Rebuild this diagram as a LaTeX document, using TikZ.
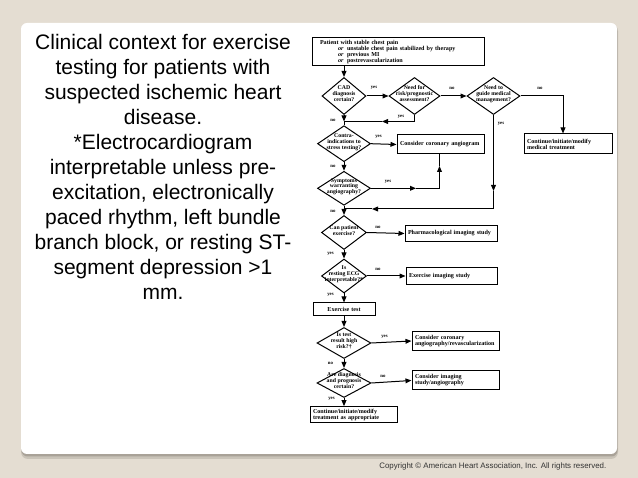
\documentclass[tikz,border=0pt]{standalone}
\usepackage{fontspec}
\setmainfont{Liberation Sans}
\newfontfamily\flowfont{Liberation Serif}
\usetikzlibrary{shapes.geometric,arrows.meta}
\definecolor{bgc}{HTML}{E4DDD2}
\definecolor{shad}{HTML}{A9A298}
\definecolor{copyc}{HTML}{333333}
\newcommand\dtext[1]{\smash{\makebox[0pt]{\begin{tabular}{@{}c@{}}#1\end{tabular}}}}
\begin{document}
\begin{tikzpicture}[x=1pt,y=-1pt,
  every node/.style={font=\flowfont\bfseries\fontsize{6.1}{6}\selectfont},
  dia/.style={draw, diamond, inner sep=0pt, line width=1pt},
  dtxt/.style={font=\flowfont\bfseries\fontsize{5.8}{5.8}\selectfont},
  boxnode/.style={draw, rectangle, line width=1pt, inner xsep=3pt, inner ysep=0pt, align=left},
  lbl/.style={font=\flowfont\bfseries\fontsize{4.8}{5}\selectfont, inner sep=0pt},
  conn/.style={line width=1pt},
  arr/.style={conn, -{Triangle[length=6pt,width=4.8pt]}},
]
\useasboundingbox (0,0) rectangle (638,478);
\fill[bgc] (0,0) rectangle (638,478);
% panel with shadow
\fill[shad!45!bgc, rounded corners=7pt] (21,24) rectangle (618,459);
\fill[shad, rounded corners=6pt] (21.5,25) rectangle (617.5,456.5);
\fill[white, rounded corners=6pt] (21,23) rectangle (617,454);

% left text
\node[font={\rmfamily\mdseries\fontsize{21}{25}\selectfont}, align=center, anchor=north, inner sep=0pt] (ctx) at (163,34)
{Clinical context for exercise\\testing for patients with\\suspected ischemic heart\\disease.\\*Electrocardiogram\\interpretable unless pre-\\excitation, electronically\\paced rhythm, left bundle\\branch block, or resting ST-\\segment depression >1\\mm.};

% copyright
\node[font={\rmfamily\mdseries\fontsize{7.9}{8}\selectfont}, text=copyc, anchor=east, inner sep=0pt] (copy) at (606.5,466)
{Copyright © American Heart Association, Inc. All rights reserved.};

% flowchart nodes
\node[boxnode, minimum width=172pt, minimum height=28pt, text width=156pt, inner xsep=8pt] (start) at (398,52)
{Patient with stable chest pain\\
\hspace*{18pt}\makebox[9pt][l]{\textit{or}}unstable chest pain stabilized by therapy\\
\hspace*{18pt}\makebox[9pt][l]{\textit{or}}previous MI\\
\hspace*{18pt}\makebox[9pt][l]{\textit{or}}postrevascularization};

\node[dia, dtxt, minimum width=44pt, minimum height=37pt] (cad) at (344,96) {\dtext{CAD\\diagnosis\\certain?}};
\node[dia, dtxt, minimum width=51pt, minimum height=37pt] (needfor) at (414.5,96) {\dtext{Need for\\risk/prognostic\\assessment?}};
\node[dia, dtxt, minimum width=53pt, minimum height=37pt] (needto) at (493.5,96) {\dtext{Need to\\guide medical\\management?}};
\node[boxnode, minimum width=88pt, minimum height=20pt, text width=82pt] (medtx) at (568,144) {Continue/initiate/modify\\medical treatment};
\node[dia, dtxt, minimum width=53pt, minimum height=36pt] (contra) at (344,143.7) {\dtext{Contra-\\indications to\\stress testing?}};
\node[boxnode, minimum width=87pt, minimum height=19pt, text width=81pt] (angio) at (440.5,144.5) {Consider coronary angiogram};
\node[dia, dtxt, minimum width=53pt, minimum height=34pt] (symp) at (344,188.3) {\dtext{Symptoms\\warranting\\angiography?}};
\node[dia, dtxt, minimum width=45pt, minimum height=34pt] (canex) at (344,232.5) {\dtext{Can patient\\exercise?}};
\node[boxnode, minimum width=92pt, minimum height=16.5pt, text width=86pt] (pharm) at (451,233.5) {Pharmacological imaging study};
\node[dia, dtxt, minimum width=45pt, minimum height=34pt] (ecg) at (344,276) {\dtext{Is\\resting ECG\\interpretable?*}};
\node[boxnode, minimum width=91pt, minimum height=16.5pt, text width=85pt] (eximg) at (451.5,276) {Exercise imaging study};
\node[boxnode, minimum width=62pt, minimum height=13pt, text width=56pt, align=center] (extest) at (344,309.5) {Exercise test};
\node[dia, dtxt, minimum width=54pt, minimum height=31pt] (risk) at (344,343) {\dtext{Is test\\result high\\risk?†}};
\node[boxnode, minimum width=87pt, minimum height=19pt, text width=81pt] (cardrev) at (455.5,341) {Consider coronary\\angiography/revascularization};
\node[dia, dtxt, minimum width=54pt, minimum height=29pt] (certain) at (344,383) {\dtext{Are diagnosis\\and prognosis\\certain?}};
\node[boxnode, minimum width=87pt, minimum height=19pt, text width=81pt] (imgst) at (455.5,380.5) {Consider imaging\\study/angiography};
\node[boxnode, minimum width=87pt, minimum height=16pt, text width=81pt] (final) at (353.5,414.7) {Continue/initiate/modify\\treatment as appropriate};

% helper coordinates
\coordinate (j1) at (344,121.5);
\coordinate (j2) at (344,209);
\coordinate (c4) at (563,96);
\coordinate (m5) at (382,121.5);
\coordinate (m9a) at (416,188.3);
\coordinate (c9) at (439.5,188.3);
\coordinate (m9b) at (439.5,166);
\coordinate (m10a) at (493.5,191);
\coordinate (c10) at (493.5,209);
\coordinate (m10b) at (372,209);

% connectors
\draw[arr] (start.south -| cad.north) -- (cad.north);
\draw[arr] (cad.east) -- (needfor.west);
\draw[arr] (needfor.east) -- (needto.west);
\draw[arr] (needto.east) -- (c4) -- (c4 |- medtx.north);
\draw[arr] (needfor.south) |- (m5);
\draw[conn] (m5) -- (j1);
\draw[arr] (cad.south) -- (j1);
\draw[conn] (j1) -- (contra.north);
\draw[arr] (contra.east) -- (angio.west);
\draw[arr] (contra.south) -- (symp.north);
\draw[arr] (symp.east) -- (m9a);
\draw[conn] (m9a) -- (c9);
\draw[arr] (c9) -- (m9b);
\draw[conn] (m9b) -- (c9 |- angio.south);
\draw[arr] (needto.south) -- (m10a);
\draw[conn] (m10a) -- (c10);
\draw[arr] (c10) -- (m10b);
\draw[conn] (m10b) -- (j2);
\draw[conn] (symp.south) -- (j2);
\draw[arr] (j2) -- (canex.north);
\draw[arr] (canex.east) -- (pharm.west);
\draw[arr] (canex.south) -- (ecg.north);
\draw[arr] (ecg.east) -- (eximg.west);
\draw[arr] (ecg.south) -- (extest.north);
\draw[arr] (extest.south) -- (risk.north);
\draw[arr] (risk.east) -- (cardrev.west);
\draw[arr] (risk.south) -- (certain.north);
\draw[arr] (certain.east) -- (imgst.west);
\draw[arr] (certain.south) -- (certain.south |- final.north);

% labels
\node[lbl] (ly1) at (374,88) {yes};
\node[lbl] (ln1) at (452,88) {no};
\node[lbl] (ln2) at (540,88) {no};
\node[lbl] (ly2) at (401,117) {yes};
\node[lbl] (ln3) at (333,120) {no};
\node[lbl] (ly3) at (501,124) {yes};
\node[lbl] (ly4) at (378.5,136.7) {yes};
\node[lbl] (ln4) at (333,166) {no};
\node[lbl] (ly5) at (388,182) {yes};
\node[lbl] (ln5) at (333,211) {no};
\node[lbl] (ln6) at (378,227.7) {no};
\node[lbl] (ly6) at (330.5,254) {yes};
\node[lbl] (ln7) at (378,269) {no};
\node[lbl] (ly7) at (330.5,295) {yes};
\node[lbl] (ly8) at (384.5,337) {yes};
\node[lbl] (ln8) at (330.5,363) {no};
\node[lbl] (ln9) at (383,376) {no};
\node[lbl] (ly9) at (331.5,399) {yes};
\end{tikzpicture}
\end{document}
